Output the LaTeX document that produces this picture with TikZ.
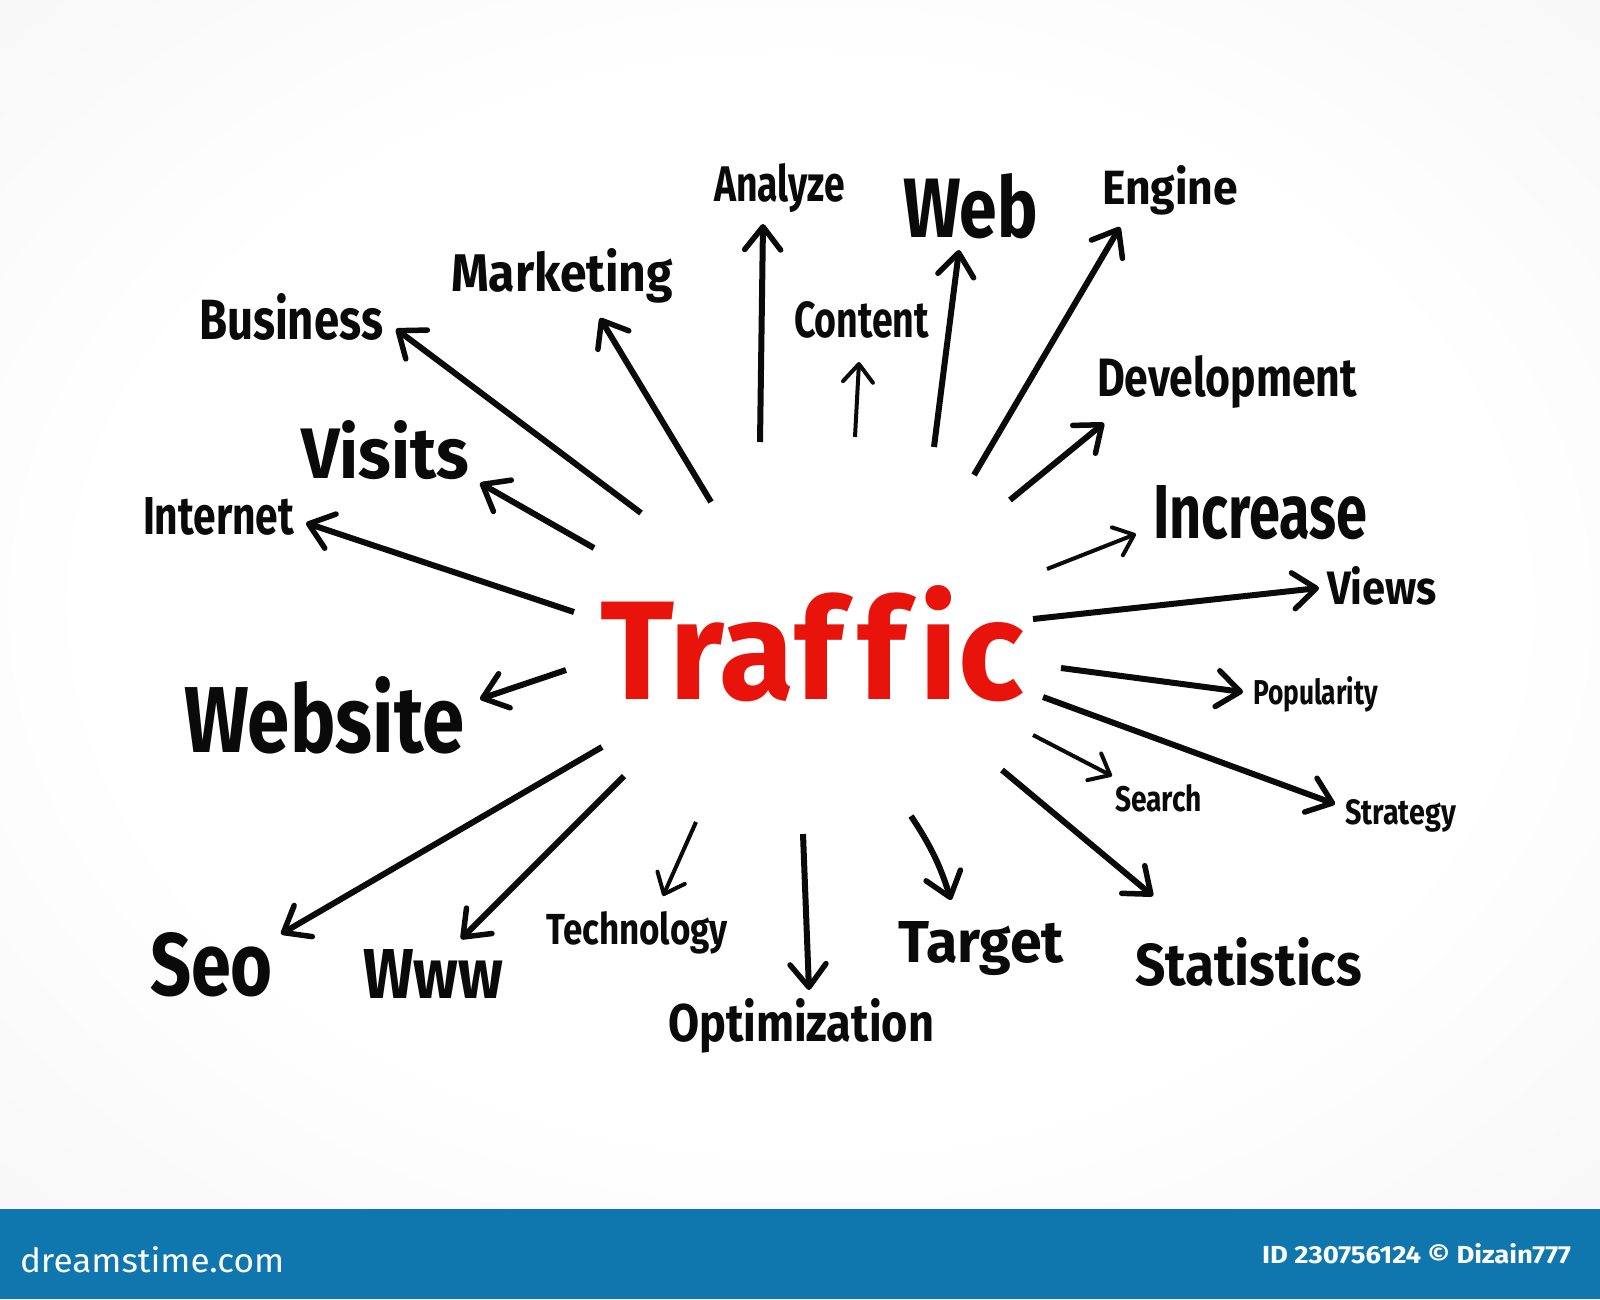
\documentclass[tikz,border=0pt]{standalone}
\usepackage{fontspec}
\setmainfont{Fira Sans}[Ligatures=NoCommon]
\usetikzlibrary{arrows.meta}
\definecolor{barblue}{RGB}{16,118,174}
\definecolor{trafred}{RGB}{232,20,12}
\definecolor{ink}{RGB}{10,10,10}
\pgfdeclareradialshading{bgshade}{\pgfpoint{0bp}{0bp}}{color(0bp)=(white); color(22bp)=(white); color(50bp)=(black!6); color(71bp)=(black!10)}
\newcommand{\lab}[3]{\resizebox{#1pt}{#2pt}{#3}}
\begin{document}
\begin{tikzpicture}[x=1pt,y=-1pt,
  lbl/.style={inner sep=0pt, outer sep=0pt, anchor=base west, text=ink},
  arr/.style={draw=ink, line width=6pt, -{Straight Barb[length=23pt,width=36pt,line width=5.5pt,round]}},
  arrs/.style={draw=ink, line width=4pt, -{Straight Barb[length=18pt,width=30pt,line width=4pt,round]}}]
\useasboundingbox (0,0) rectangle (1600,1299);
\shade[shading=bgshade] (0,0) rectangle (1600,1210);
\fill[barblue] (0,1209) rectangle (1600,1299);
\node[lbl,text=white] (dsl) at (20,1272) {\lab{264}{26}{dreamstime.com}};
\node[lbl,text=white] (did) at (1262,1263) {\lab{309}{20}{\bfseries ID 230756124 © Dizain777}};

% labels
\node[lbl,text=trafred] (nTraffic) at (600,699) {\lab{424}{114}{\bfseries Tra\mbox{f}\kern1pt\mbox{f}\kern1pt\mbox{i}c}};
\node[lbl] (nBusiness) at (199,339) {\lab{184}{46}{\bfseries Business}};
\node[lbl] (nMarketing) at (451,291) {\lab{222}{43}{\bfseries Marketing}};
\node[lbl] (nAnalyze) at (714,201) {\lab{131}{38}{\bfseries Analyze}};
\node[lbl] (nWeb) at (903,237) {\lab{135}{64}{\bfseries Web}};
\node[lbl] (nEngine) at (1102,204) {\lab{136}{39}{\bfseries Engine}};
\node[lbl] (nContent) at (794,337) {\lab{135}{36}{\bfseries Content}};
\node[lbl] (nDevelopment) at (1097,396) {\lab{260}{41}{\bfseries Development}};
\node[lbl] (nVisits) at (301,478) {\lab{168}{58}{\bfseries Visits}};
\node[lbl] (nInternet) at (143,534) {\lab{151}{37}{\bfseries Internet}};
\node[lbl] (nIncrease) at (1153,538) {\lab{214}{53}{\bfseries Increase}};
\node[lbl] (nViews) at (1327,604) {\lab{110}{38}{\bfseries Views}};
\node[lbl] (nPopularity) at (1253,704) {\lab{125}{28}{\bfseries Popularity}};
\node[lbl] (nWebsite) at (184,752) {\lab{280}{76}{\bfseries Website}};
\node[lbl] (nSearch) at (1115,811) {\lab{87}{27}{\bfseries Search}};
\node[lbl] (nStrategy) at (1345,824) {\lab{111}{25}{\bfseries Strategy}};
\node[lbl] (nSeo) at (150,995) {\lab{123}{63}{\bfseries Seo}};
\node[lbl] (nWww) at (363,998) {\lab{140}{49}{\bfseries Www}};
\node[lbl] (nTechnology) at (546,944) {\lab{182}{33}{\bfseries Technology}};
\node[lbl] (nOptimization) at (668,1041) {\lab{266}{43}{\bfseries Optimization}};
\node[lbl] (nTarget) at (898,962) {\lab{166}{41}{\bfseries Target}};
\node[lbl] (nStatistics) at (1135,985) {\lab{227}{48}{\bfseries Statistics}};

% arrow end points
\coordinate (sBusiness) at (641,513);     \coordinate (tBusiness) at (396,329);
\coordinate (sMarketing) at (711,502);    \coordinate (tMarketing) at (600,318);
\coordinate (sAnalyze) at (760,442);      \coordinate (tAnalyze) at (763,224);
\coordinate (sContent) at (855,437);      \coordinate (tContent) at (859,362);
\coordinate (sWeb) at (934,447);          \coordinate (tWeb) at (959,250);
\coordinate (sEngine) at (974,475);       \coordinate (tEngine) at (1120,227);
\coordinate (sDevelopment) at (1010,500); \coordinate (tDevelopment) at (1104,423);
\coordinate (sIncrease) at (1047,569);    \coordinate (tIncrease) at (1136,534);
\coordinate (sViews) at (1033,619);       \coordinate (tViews) at (1319,588);
\coordinate (sPopularity) at (1061,668);  \coordinate (tPopularity) at (1243,692);
\coordinate (sStrategy) at (1043,697);    \coordinate (tStrategy) at (1335,804);
\coordinate (sSearch) at (1033,735);      \coordinate (tSearch) at (1112,776);
\coordinate (sStatistics) at (1002,770);  \coordinate (tStatistics) at (1153,896);
\coordinate (sTarget) at (911,816);       \coordinate (tTarget) at (951,900);
\coordinate (sOptimization) at (803,834); \coordinate (tOptimization) at (809,990);
\coordinate (sTechnology) at (696,822);   \coordinate (tTechnology) at (663,896);
\coordinate (sWww) at (624,776);          \coordinate (tWww) at (461,939);
\coordinate (sSeo) at (602,747);          \coordinate (tSeo) at (281,934);
\coordinate (sWebsite) at (566,670);      \coordinate (tWebsite) at (480,699);
\coordinate (sInternet) at (574,612);     \coordinate (tInternet) at (306,523);
\coordinate (sVisits) at (594,548);       \coordinate (tVisits) at (480,483);

\draw[arr] (sBusiness) -- (tBusiness);
\draw[arr] (sMarketing) -- (tMarketing);
\draw[arr] (sAnalyze) -- (tAnalyze);
\draw[arrs] (sContent) -- (tContent);
\draw[arr] (sWeb) -- (tWeb);
\draw[arr] (sEngine) -- (tEngine);
\draw[arr] (sDevelopment) -- (tDevelopment);
\draw[arrs] (sIncrease) -- (tIncrease);
\draw[arr] (sViews) -- (tViews);
\draw[arr] (sPopularity) -- (tPopularity);
\draw[arr] (sStrategy) -- (tStrategy);
\draw[arrs] (sSearch) -- (tSearch);
\draw[arr] (sStatistics) -- (tStatistics);
\draw[arr] (sTarget) to[bend left=8] (tTarget);
\draw[arr] (sOptimization) -- (tOptimization);
\draw[arrs] (sTechnology) -- (tTechnology);
\draw[arr] (sWww) -- (tWww);
\draw[arr] (sSeo) -- (tSeo);
\draw[arr] (sWebsite) -- (tWebsite);
\draw[arr] (sInternet) -- (tInternet);
\draw[arr] (sVisits) -- (tVisits);
\end{tikzpicture}
\end{document}
